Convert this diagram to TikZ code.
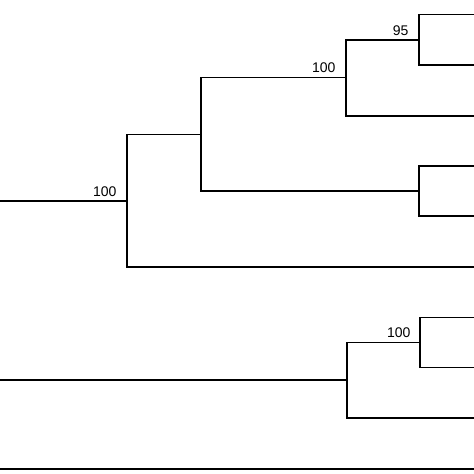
\documentclass[tikz,border=0pt]{standalone}
\usepackage{fontspec}
\setmainfont{Liberation Sans}
\begin{document}
\begin{tikzpicture}[x=1pt,y=-1pt,line width=1.2pt,every node/.style={font=\fontsize{14}{16}\selectfont,inner sep=0pt,anchor=south east}]
\useasboundingbox (0,0) rectangle (474,474);
% upper clade
\coordinate (r1) at (0,201);
\coordinate (n1) at (127,201);
\coordinate (n2) at (201,134.5);
\coordinate (n3) at (346,77.5);
\coordinate (n5) at (419,40);
\coordinate (n4) at (419,191);
\coordinate (t1) at (474,14.5);
\coordinate (t2) at (474,65);
\coordinate (t3) at (474,116);
\coordinate (t4) at (474,166);
\coordinate (t5) at (474,216);
\coordinate (t6) at (474,267);
% lower clade
\coordinate (r2) at (0,380);
\coordinate (n6) at (347,380);
\coordinate (n7) at (420,342.7);
\coordinate (t7) at (474,317.3);
\coordinate (t8) at (474,367.3);
\coordinate (t9) at (474,418);
\coordinate (r3) at (0,469);
\coordinate (t10) at (474,469);
\draw (r1)--(n1);
\draw (r2)--(n6);
\draw (r3)--(t10);
\foreach \u/\v in {n1/n2,n1/t6,n2/n3,n2/n4,n3/n5,n3/t3,n5/t1,n5/t2,n4/t4,n4/t5,n6/n7,n6/t9,n7/t7,n7/t8}
  \draw (\u)|-(\v);
% support values
\node (b1) at ([shift={(-10,-4)}]n1) {100};
\node (b3) at ([shift={(-10,-4)}]n3) {100};
\node (b5) at ([shift={(-10,-4)}]n5) {95};
\node (b7) at ([shift={(-9,-4)}]n7) {100};
\end{tikzpicture}
\end{document}
